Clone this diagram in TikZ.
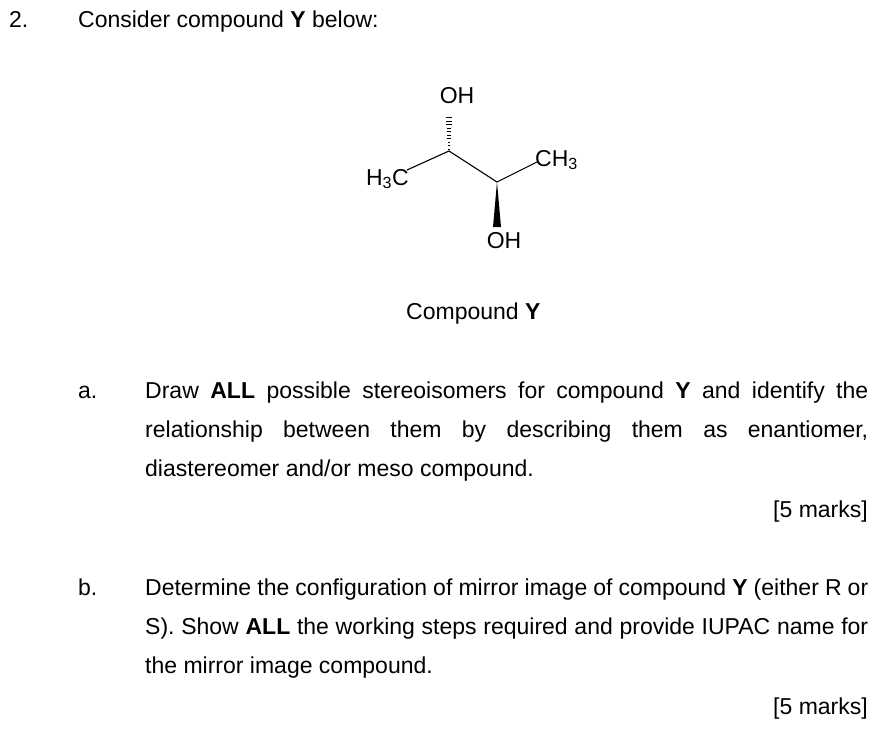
\documentclass[tikz,border=0pt]{standalone}
\usepackage{fontspec}
\setmainfont{Liberation Sans}
\usetikzlibrary{calc}
\begin{document}
\begin{tikzpicture}[x=1pt,y=-1pt,
  txt/.style={anchor=base west,inner sep=0pt,font=\fontsize{23}{39}\selectfont},
  lab/.style={inner sep=0pt,font=\fontsize{23}{24}\selectfont},
  para/.style={anchor=base west,inner sep=0pt,text width=723pt,align=justify,font=\fontsize{23}{39}\selectfont},
  bond/.style={line width=1.1pt}]
\useasboundingbox (0,0) rectangle (882,735);
\node[txt] (n2) at (9,28) {2.};
\node[txt] (q) at (78,28) {Consider compound \textbf{Y} below:};
% molecule
\coordinate (c1) at (407,170);
\coordinate (c2) at (449,151);
\coordinate (c3) at (497,182);
\coordinate (c4) at (537,162);
\coordinate (h2) at (449,116);
\coordinate (w3) at (497,227);
\draw[bond] (c1) -- (c2) -- (c3) -- (c4);
\foreach \t in {0.05,0.15,...,1.0}{
  \draw[line width=1.1pt] ($(c2)!\t!(h2)+(-0.5-3*\t,0)$) -- ($(c2)!\t!(h2)+(0.5+3*\t,0)$);
}
\fill (c3) -- ($(w3)+(-4,0)$) -- ($(w3)+(4,0)$) -- cycle;
\node[lab] (oh1) at (457,96) {OH};
\node[lab] (oh2) at (504,241) {OH};
\node[lab,anchor=east] (me1) at (409,179) {H\textsubscript{3}C};
\node[lab,anchor=west] (me2) at (535,160) {CH\textsubscript{3}};
\node[txt] (cy) at (406,319) {Compound \textbf{Y}};
% part a
\node[txt] (a) at (78,398) {a.};
\node[para] (pa) at (145,398) {Draw \textbf{ALL} possible stereoisomers for compound \textbf{Y} and identify the\linebreak relationship between them by describing them as enantiomer,\linebreak diastereomer and/or meso compound.};
\node[txt,anchor=base east] (ma) at (868,517) {[5 marks]};
% part b
\node[txt] (b) at (78,595) {b.};
\node[para] (pb) at (145,595) {Determine the configuration of mirror image of compound \textbf{Y} (either R or\linebreak S). Show \textbf{ALL} the working steps required and provide IUPAC name for\linebreak the mirror image compound.};
\node[txt,anchor=base east] (mb) at (868,714) {[5 marks]};
\end{tikzpicture}
\end{document}
